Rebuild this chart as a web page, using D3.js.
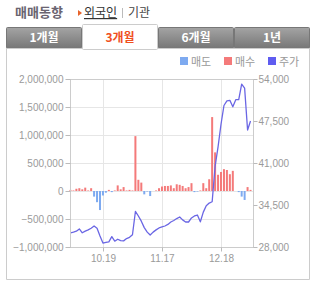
<!DOCTYPE html>
<html>
<head>
<meta charset="utf-8">
<script src="https://cdn.jsdelivr.net/npm/d3@7"></script>
<style>
  body { margin: 0; background: #fff; }
  svg { display: block; font-family: "Liberation Sans", Arial, sans-serif; }
  .axis text { fill: #9a9a9a; font-size: 10px; }
  .axis line, .axis path { stroke: #bbb; }
</style>
</head>
<body>
<svg id="chart" width="320" height="290"></svg>
<script>
// trading days (3 months)
const dates = [
  "10.01","10.05","10.06","10.07","10.08","10.09","10.12","10.13","10.14","10.15","10.16",
  "10.19","10.20","10.21","10.22","10.23","10.26","10.27","10.28","10.29","10.30",
  "11.02","11.03","11.04","11.05","11.06","11.09","11.10","11.11","11.12","11.16",
  "11.17","11.18","11.19","11.23","11.24","11.25","11.26","11.30","12.01","12.02",
  "12.03","12.07","12.08","12.09","12.10","12.11","12.14","12.15","12.16","12.17",
  "12.18","12.21","12.22","12.23","12.24","12.28","12.29","12.30","01.04","01.05","01.06"
];
// foreign net buy (+) / sell (-)
const netTrade = [
  20000, 10000, 40000, 50000, 30000, 60000, 10000, 50000, -100000, -200000, -340000,
  -80000, -30000, 20000, -20000, 10000, 100000, 30000, 70000, 10000, 20000,
  10000, 980000, 200000, 150000, -60000, -10000, -90000, 0, 10000, 50000,
  80000, 90000, 90000, 100000, 50000, 120000, 110000, 90000, 50000, 70000,
  140000, -20000, -10000, 10000, 140000, 50000, 210000, 1320000, 690000, 290000,
  340000, 390000, 375000, 300000, 360000, 0, -20000, -100000, -160000, 70000, 20000
];
// closing price
const price = [
  30170, 30300, 30450, 30800, 30200, 30450, 30650, 30900, 31250, 30900, 29700,
  28600, 28700, 28800, 29600, 28900, 29200, 29000, 28950, 29300, 29500,
  29900, 33500, 32800, 32000, 31000, 30300, 29850, 30300, 30650, 30950,
  31100, 31250, 31500, 31870, 32100, 32400, 32650, 32200, 31870, 31870,
  32500, 32800, 32950, 31900, 33400, 34400, 34800, 35000, 40500, 43500,
  47000, 49900, 50600, 50700, 49700, 50800, 50800, 53200, 52600, 46100, 47500
];
const leftTicks = [-1000000, -500000, 0, 500000, 1000000, 1500000, 2000000];
const rightTicks = [28000, 34500, 41000, 47500, 54000];
const xTicks = ["10.19", "11.17", "12.18"];
const tabs = ["1개월", "3개월", "6개월", "1년"];
const legendItems = [["매도", "#7eaaf0"], ["매수", "#f47a7a"], ["주가", "#5f5cf0"]];

const svg = d3.select("#chart");

// header
svg.append("text").attr("x", 15).attr("y", 17)
  .attr("font-family", "'Noto Sans CJK KR', sans-serif").attr("font-size", 13)
  .attr("font-weight", "bold").attr("fill", "#6a6470").text("매매동향");
svg.append("path").attr("d", "M78,10 L82,13 L78,16 Z").attr("fill", "#e8632a");
svg.append("text").attr("x", 84).attr("y", 17)
  .attr("font-family", "'Noto Sans CJK KR', sans-serif").attr("font-size", 12)
  .attr("fill", "#333").attr("text-decoration", "underline").text("외국인");
svg.append("line").attr("x1", 122.5).attr("x2", 122.5).attr("y1", 8).attr("y2", 18).attr("stroke", "#bbb");
svg.append("text").attr("x", 128).attr("y", 17)
  .attr("font-family", "'Noto Sans CJK KR', sans-serif").attr("font-size", 12)
  .attr("fill", "#444").text("기관");

// tabs
const defs = svg.append("defs");
const grad = defs.append("linearGradient").attr("id", "tabg").attr("x1", 0).attr("x2", 0).attr("y1", 0).attr("y2", 1);
grad.append("stop").attr("offset", "0%").attr("stop-color", "#a4a4a4");
grad.append("stop").attr("offset", "100%").attr("stop-color", "#767676");

const tabX = d3.scaleBand().domain(tabs).range([6, 310]);
const tabG = svg.append("g").selectAll("g").data(tabs).enter().append("g");
tabG.append("rect")
  .attr("x", d => tabX(d) + 0.5)
  .attr("y", d => d === "3개월" ? 24.5 : 27.5)
  .attr("width", tabX.bandwidth() - 1)
  .attr("height", d => d === "3개월" ? 25 : 21)
  .attr("rx", 1)
  .attr("fill", d => d === "3개월" ? "#fff" : "url(#tabg)")
  .attr("stroke", d => d === "3개월" ? "#ccc" : "#777");
tabG.append("text")
  .attr("x", d => tabX(d) + tabX.bandwidth() / 2)
  .attr("y", 42)
  .attr("text-anchor", "middle")
  .attr("font-family", "'Noto Sans CJK KR', sans-serif")
  .attr("font-size", 12).attr("font-weight", "bold")
  .attr("fill", d => d === "3개월" ? "#f0501e" : "#fff")
  .text(d => d);

// panel
svg.append("path")
  .attr("d", "M6.5,48.5 V279.5 H309.5 V48.5")
  .attr("fill", "none").attr("stroke", "#ccc");
svg.append("line").attr("x1", 6.5).attr("x2", tabX("3개월") + 0.5).attr("y1", 48.5).attr("y2", 48.5).attr("stroke", "#ccc");
svg.append("line").attr("x1", tabX("6개월") + 0.5).attr("x2", 309.5).attr("y1", 48.5).attr("y2", 48.5).attr("stroke", "#ccc");

// legend
const leg = svg.append("g").selectAll("g").data(legendItems).enter().append("g")
  .attr("transform", (d, i) => `translate(${[180, 224, 268][i]},57)`);
leg.append("rect").attr("width", 8).attr("height", 8).attr("fill", d => d[1]);
leg.append("text").attr("x", 11).attr("y", 8.5)
  .attr("font-family", "'Noto Sans CJK KR', sans-serif").attr("font-size", 11)
  .attr("fill", "#999").text(d => d[0]);

// chart
const plotL = 70, plotR = 253, plotT = 79, plotB = 247;
const x = d3.scaleBand().domain(dates).range([plotL - 1, plotR - 1]);
const cx = d => x(d) + x.bandwidth() / 2;
const yL = d3.scaleLinear().domain([-1000000, 2000000]).range([plotB, plotT]);
const yR = d3.scaleLinear().domain([28000, 54000]).range([plotB, plotT]);

const grid = svg.append("g");
grid.selectAll("line.h").data(leftTicks).enter().append("line")
  .attr("x1", plotL).attr("x2", plotR)
  .attr("y1", d => Math.round(yL(d)) + 0.5).attr("y2", d => Math.round(yL(d)) + 0.5)
  .attr("stroke", "#e6e6e6");
grid.selectAll("line.v").data(xTicks).enter().append("line")
  .attr("x1", d => Math.round(cx(d)) + 0.5).attr("x2", d => Math.round(cx(d)) + 0.5)
  .attr("y1", plotT).attr("y2", plotB)
  .attr("stroke", "#e6e6e6");

// bars
svg.append("g").selectAll("rect").data(dates).enter().append("rect")
  .attr("x", d => cx(d) - 1)
  .attr("width", 2)
  .attr("y", (d, i) => yL(Math.max(0, netTrade[i])))
  .attr("height", (d, i) => Math.abs(yL(netTrade[i]) - yL(0)))
  .attr("fill", (d, i) => netTrade[i] >= 0 ? "#f47a7a" : "#7eaaf0");

// price line
svg.append("path")
  .datum(dates)
  .attr("fill", "none")
  .attr("stroke", "#6a66e4")
  .attr("stroke-width", 1.3)
  .attr("stroke-linejoin", "round")
  .attr("d", d3.line().x(d => cx(d)).y((d, i) => yR(price[i])));

// frame
svg.append("rect").attr("x", plotL + 0.5).attr("y", plotT + 0.5)
  .attr("width", plotR - plotL).attr("height", plotB - plotT)
  .attr("fill", "none").attr("stroke", "#ccc");

// axes
svg.append("g").attr("class", "axis").attr("transform", `translate(${plotL + 0.5},0)`)
  .call(d3.axisLeft(yL).tickValues(leftTicks).tickFormat(d3.format(",")).tickSize(5).tickPadding(2))
  .call(g => g.select(".domain").remove());
svg.append("g").attr("class", "axis").attr("transform", `translate(${plotR + 0.5},0)`)
  .call(d3.axisRight(yR).tickValues(rightTicks).tickFormat(d3.format(",")).tickSize(4).tickPadding(1))
  .call(g => g.select(".domain").remove());
svg.append("g").attr("class", "axis").attr("transform", `translate(0,${plotB + 0.5})`)
  .call(d3.axisBottom(x).tickValues(xTicks).tickSize(4).tickPadding(3))
  .call(g => g.select(".domain").remove())
  .call(g => g.selectAll(".tick").attr("transform", d => `translate(${Math.round(cx(d)) + 0.5},0)`));
</script>
</body>
</html>
